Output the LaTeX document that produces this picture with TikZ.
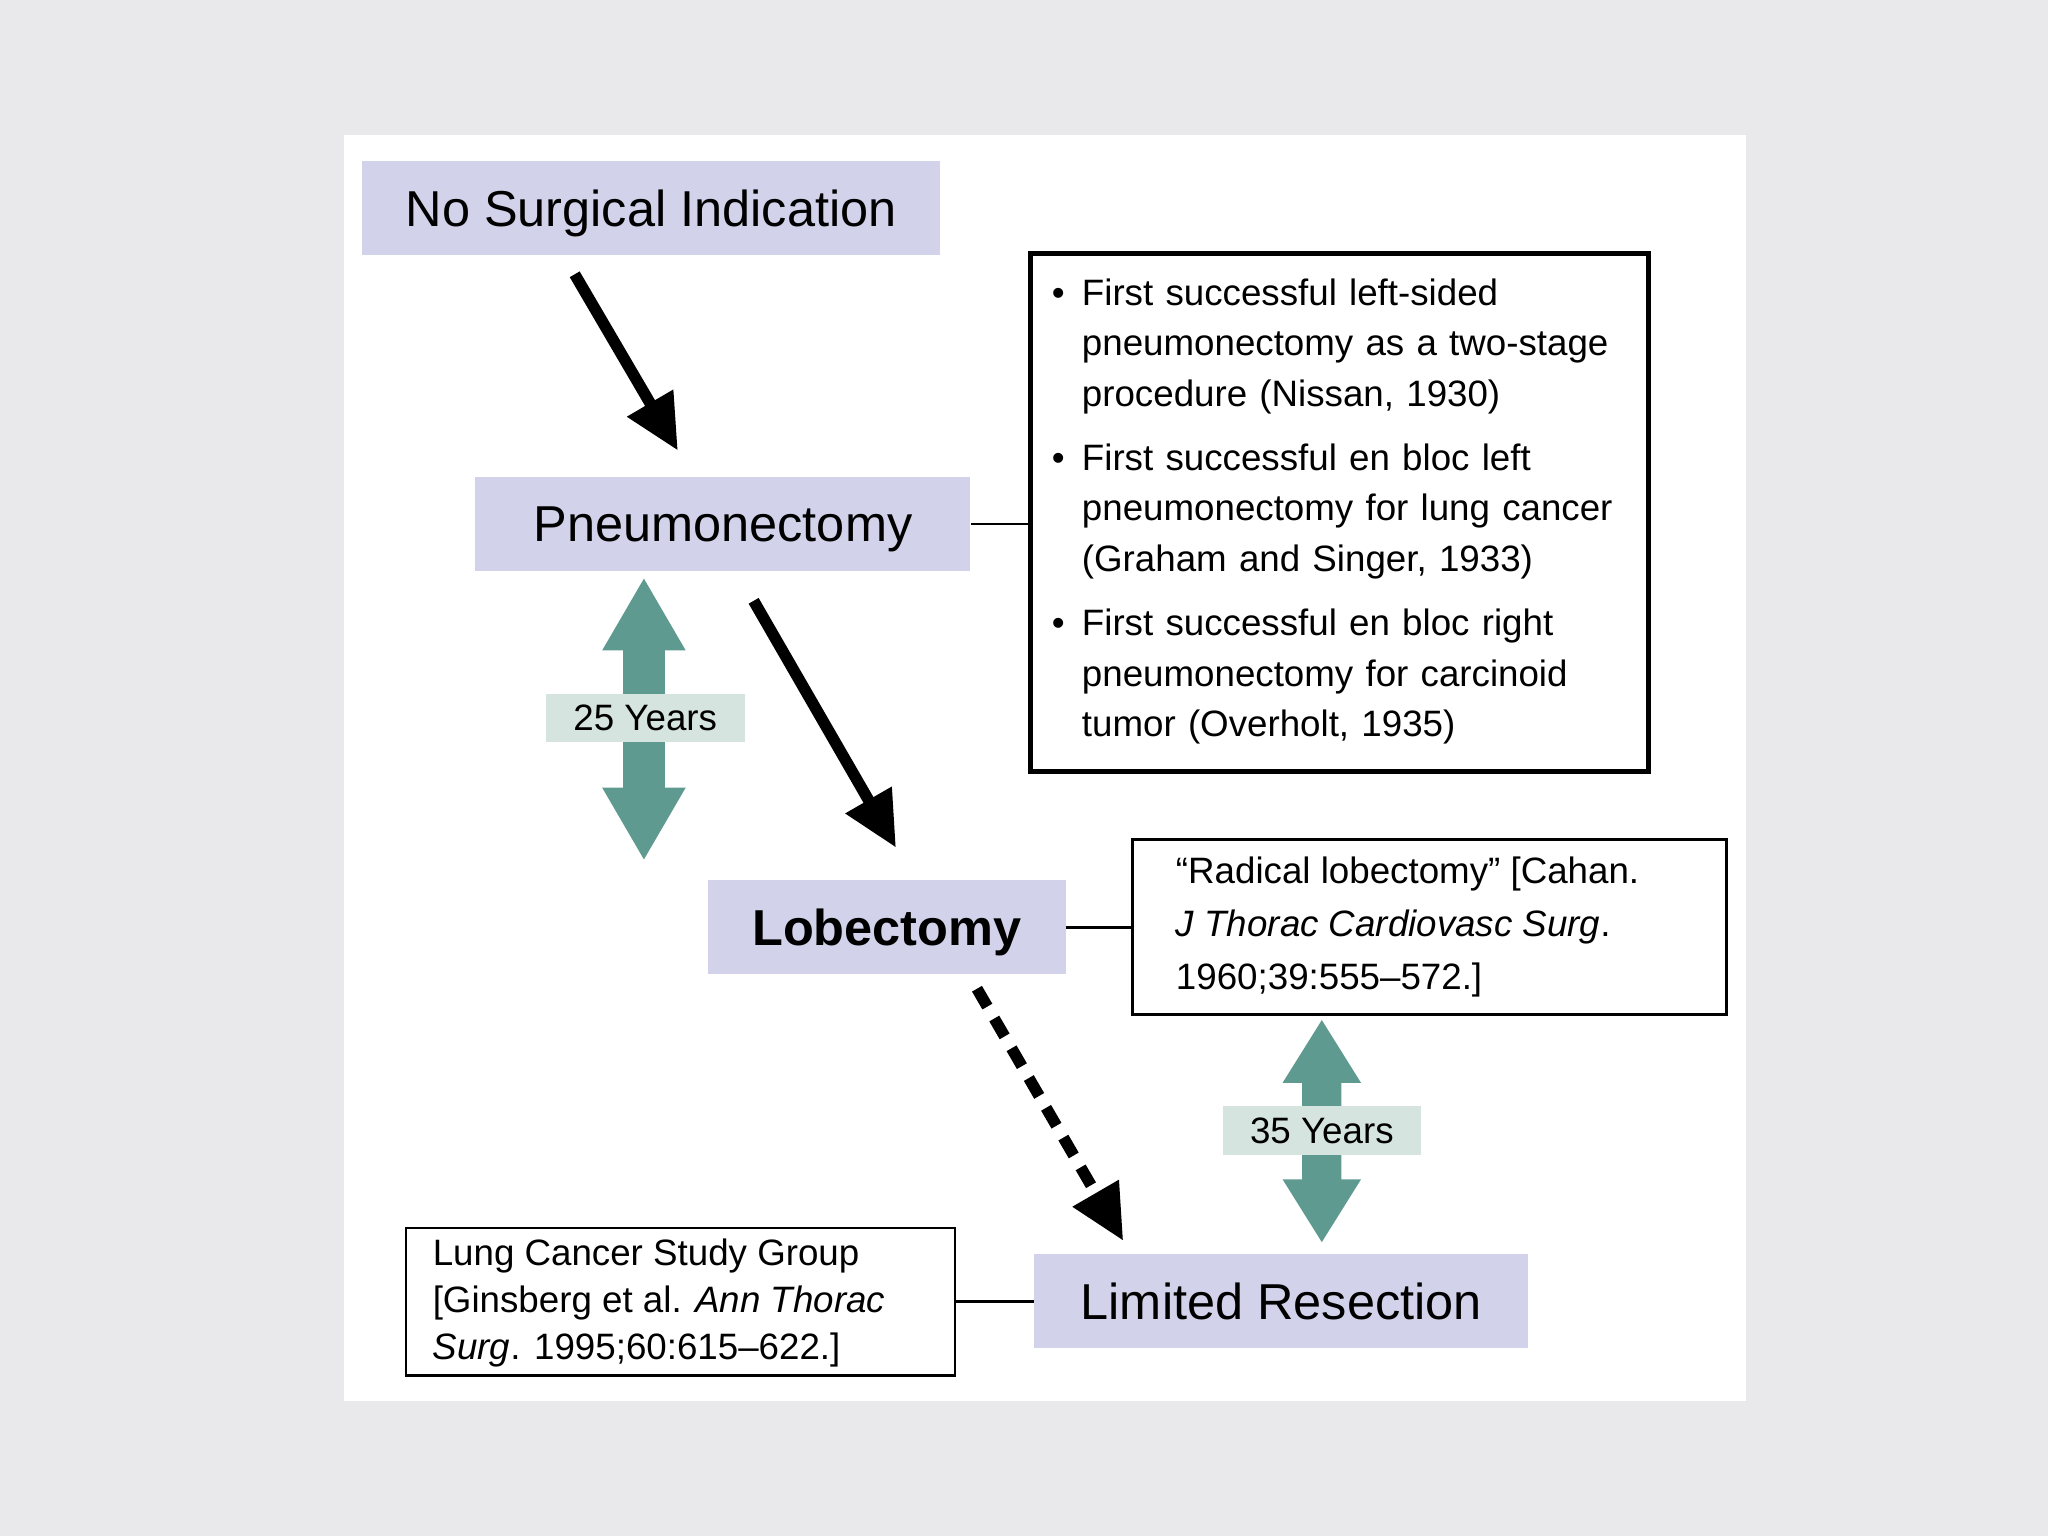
\documentclass[tikz,border=0pt]{standalone}
\usepackage{fontspec}
\setmainfont{Liberation Sans}
\usetikzlibrary{arrows.meta}
\definecolor{lav}{HTML}{D2D2EA}
\definecolor{teal1}{HTML}{5E9A8F}
\definecolor{lbl}{HTML}{D6E4E0}
\definecolor{bgc}{HTML}{E9E9EB}
\newlength\pxu \setlength\pxu{0.02cm}
\tikzset{
 stage/.style={fill=lav,minimum height=72\pxu,inner sep=0pt,text depth=-4pt,font=\fontsize{22}{26}\selectfont},
 blk/.style={line width=5pt,-{Triangle[length=24pt,width=22pt]}},
 yrs/.style={fill=lbl,inner sep=0pt,minimum width=152\pxu,minimum height=37\pxu,font=\fontsize{16}{18}\selectfont},
 conn/.style={line width=1pt}
}
\begin{document}
\begin{tikzpicture}[x={(0.02cm,0)},y={(0,-0.02cm)}]
\fill[bgc] (0,0) rectangle (1568,1176);
\useasboundingbox (0,0) rectangle (1568,1176);
\fill[white] (263,103) rectangle (1337,1073);
% stage boxes
\node[stage,minimum width=443\pxu] (nsi) at (498.5,159.5) {No Surgical Indication};
\node[stage,minimum width=379\pxu] (pn) at (553.5,401) {Pneumonectomy};
\node[stage,minimum width=274\pxu,font=\fontsize{22}{26}\selectfont\bfseries] (lob) at (679,710) {Lobectomy};
\node[stage,minimum width=378\pxu] (lr) at (981,996) {Limited Resection};
% ref boxes
\draw[line width=2.2pt] (789,194) rectangle (1262,591);
\node (b1) at (1025.5,392.5) [minimum width=473\pxu,minimum height=397\pxu] {};
\node[anchor=north west,align=left,text width=430\pxu,font=\fontsize{16}{22}\selectfont,inner sep=0pt] at (805,213) {%
\makebox[23\pxu][l]{•}First successful left-sided\\ \hspace*{23\pxu}pneumonectomy as a two-stage\\ \hspace*{23\pxu}procedure (Nissan, 1930)\\[6pt]
\makebox[23\pxu][l]{•}First successful en bloc left\\ \hspace*{23\pxu}pneumonectomy for lung cancer\\ \hspace*{23\pxu}(Graham and Singer, 1933)\\[6pt]
\makebox[23\pxu][l]{•}First successful en bloc right\\ \hspace*{23\pxu}pneumonectomy for carcinoid\\ \hspace*{23\pxu}tumor (Overholt, 1935)};
\node[draw,line width=1.4pt,minimum width=455\pxu,minimum height=134\pxu] (b2) at (1094.5,710) {};
\node[anchor=north west,align=left,inner sep=0pt,font=\fontsize{16}{23}\selectfont] at (900,656) {“Radical lobectomy” {[}Cahan.\\ \textit{J Thorac Cardiovasc Surg}.\\ 1960;39:555–572.{]}};
\node[draw,line width=1pt,minimum width=420\pxu,minimum height=113\pxu] (b3) at (521,996.5) {};
\node[anchor=north west,align=left,inner sep=0pt,font=\fontsize{16}{20.5}\selectfont] at (331,948) {Lung Cancer Study Group\\ {[}Ginsberg et al. \textit{Ann Thorac}\\ \textit{Surg}. 1995;60:615–622.{]}};
% connectors
\draw[conn] (pn.east) -- (pn.east -| b1.west);
\draw[conn] (lob.east) -- (lob.east -| b2.west);
\draw[conn] (b3.east) -- (b3.east -| lr.west);
% black arrows
\coordinate (a1s) at (440,210); \coordinate (a1e) at (519,345);
\coordinate (a2s) at (577,460); \coordinate (a2e) at (686,649);
\coordinate (a3s) at (748,757); \coordinate (a3e) at (860,950);
\draw[blk] (a1s) -- (a1e);
\draw[blk] (a2s) -- (a2e);
\draw[blk,dash pattern=on 9pt off 6pt] (a3s) -- (a3e);
% teal double arrows
\fill[teal1] (493,443) -- (525,498) -- (509,498) -- (509,603) -- (525,603) -- (493,658) -- (461,603) -- (477,603) -- (477,498) -- (461,498) -- cycle;
\node[yrs] (y25) at (494,549.5) {25 Years};
\fill[teal1] (1012,781) -- (1042,829) -- (1027,829) -- (1027,903) -- (1042,903) -- (1012,951) -- (982,903) -- (997,903) -- (997,829) -- (982,829) -- cycle;
\node[yrs] (y35) at (1012,865.5) {35 Years};
\end{tikzpicture}
\end{document}
